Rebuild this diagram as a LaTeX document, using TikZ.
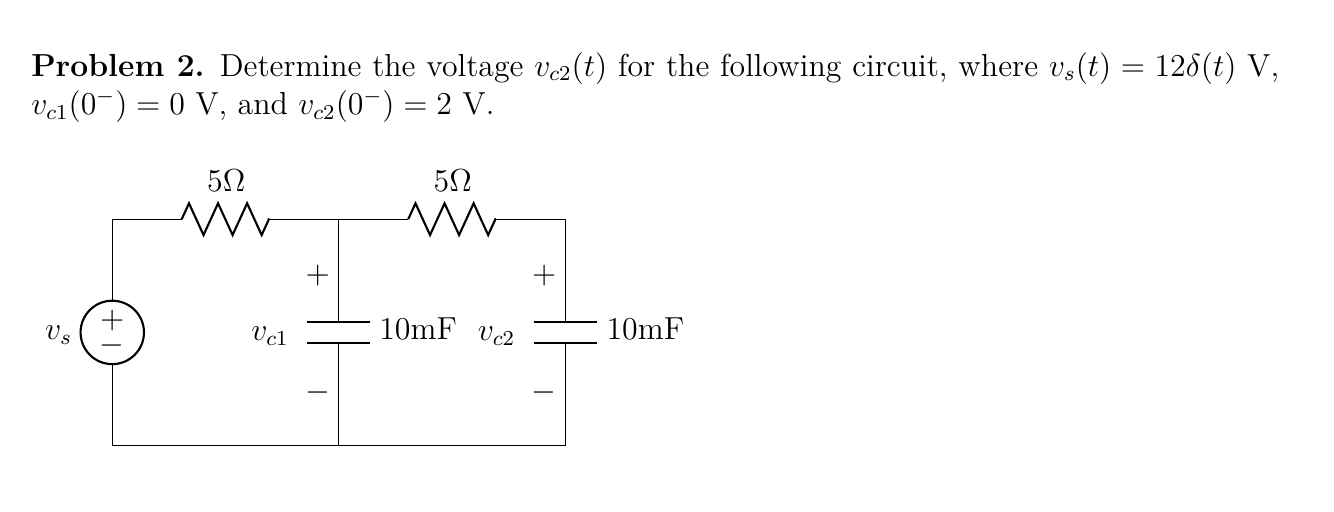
\documentclass[tikz,border=0pt]{standalone}
\usepackage{amsmath}
\usepackage{amssymb}
\usepackage{tikz}
\usetikzlibrary{positioning, decorations.pathmorphing}

\tikzset{
  wire/.style={line width=0.4pt},
  resistor/.style={line width=0.8pt,decorate,decoration={zigzag,segment length=0.385cm,amplitude=0.21cm}},
  plate/.style={line width=0.8pt},
  label/.style={inner sep=0pt,font=\fontsize{12}{14.5}\selectfont},
  prose/.style={inner sep=0pt,anchor=base west,font=\fontsize{12}{14.5}\selectfont}
}

\begin{document}
\begin{tikzpicture}[scale=1.0]
  \useasboundingbox (-1.487,-0.878) rectangle (16.182,5.903);
  % problem statement
  \node[prose] (line1) at (-1.08,4.896) {\makebox[16.53cm][s]{\textbf{Problem 2.} Determine the voltage $v_{c2}(t)$ for the following circuit, where $v_s(t)=12\delta(t)$ V,}};
  \node[prose] (line2) at (-1.08,4.39) {$v_{c1}(0^-)=0$ V, and $v_{c2}(0^-)=2$ V.};
  % corners of the circuit
  \coordinate (bl) at (0,0);
  \coordinate (tl) at (0,3);
  \coordinate (tm) at (3,3);
  \coordinate (bm) at (3,0);
  \coordinate (tr) at (6,3);
  \coordinate (br) at (6,0);
  % source
  \node[circle,draw,line width=0.8pt,minimum size=0.84cm,inner sep=0pt] (vs) at (0,1.5) {};
  \node[label,align=center] (vssign) at (0,1.49) {$+$\\[-5.3pt]$-$};
  \node[label] (vslabel) at (-0.71,1.46) {$v_s$};
  % resistors
  \coordinate (r1a) at (0.92,3);
  \coordinate (r1b) at (2.08,3);
  \coordinate (r2a) at (3.92,3);
  \coordinate (r2b) at (5.08,3);
  \draw[resistor] (r1a) -- (r1b);
  \draw[resistor] (r2a) -- (r2b);
  \node[label] (r1label) at (1.51,3.51) {$5\Omega$};
  \node[label] (r2label) at (4.51,3.51) {$5\Omega$};
  % capacitors
  \coordinate (c1a) at (3,1.64);
  \coordinate (c1b) at (3,1.36);
  \coordinate (c2a) at (6,1.64);
  \coordinate (c2b) at (6,1.36);
  \draw[plate] ([xshift=-0.42cm]c1a) -- ([xshift=0.42cm]c1a);
  \draw[plate] ([xshift=-0.42cm]c1b) -- ([xshift=0.42cm]c1b);
  \draw[plate] ([xshift=-0.42cm]c2a) -- ([xshift=0.42cm]c2a);
  \draw[plate] ([xshift=-0.42cm]c2b) -- ([xshift=0.42cm]c2b);
  \node[label,anchor=base west] (c1value) at (3.53,1.4) {10mF};
  \node[label,anchor=base west] (c2value) at (6.54,1.4) {10mF};
  % polarity of the capacitor voltages
  \node[label] (c1plus) at (2.72,2.26) {$+$};
  \node[label] (c1minus) at (2.72,0.71) {$-$};
  \node[label] (c1label) at (2.09,1.45) {$v_{c1}$};
  \node[label] (c2plus) at (5.72,2.26) {$+$};
  \node[label] (c2minus) at (5.72,0.71) {$-$};
  \node[label] (c2label) at (5.09,1.45) {$v_{c2}$};
  % wires
  \draw[wire] (vs) -- (tl) -- (r1a);
  \draw[wire] (r1b) -- (tm) -- (r2a);
  \draw[wire] (r2b) -- (tr) -- (c2a);
  \draw[wire] (tm) -- (c1a);
  \draw[wire] (c1b) -- (bm);
  \draw[wire] (c2b) -- (br) -- (bl) -- (vs);
\end{tikzpicture}
\end{document}
